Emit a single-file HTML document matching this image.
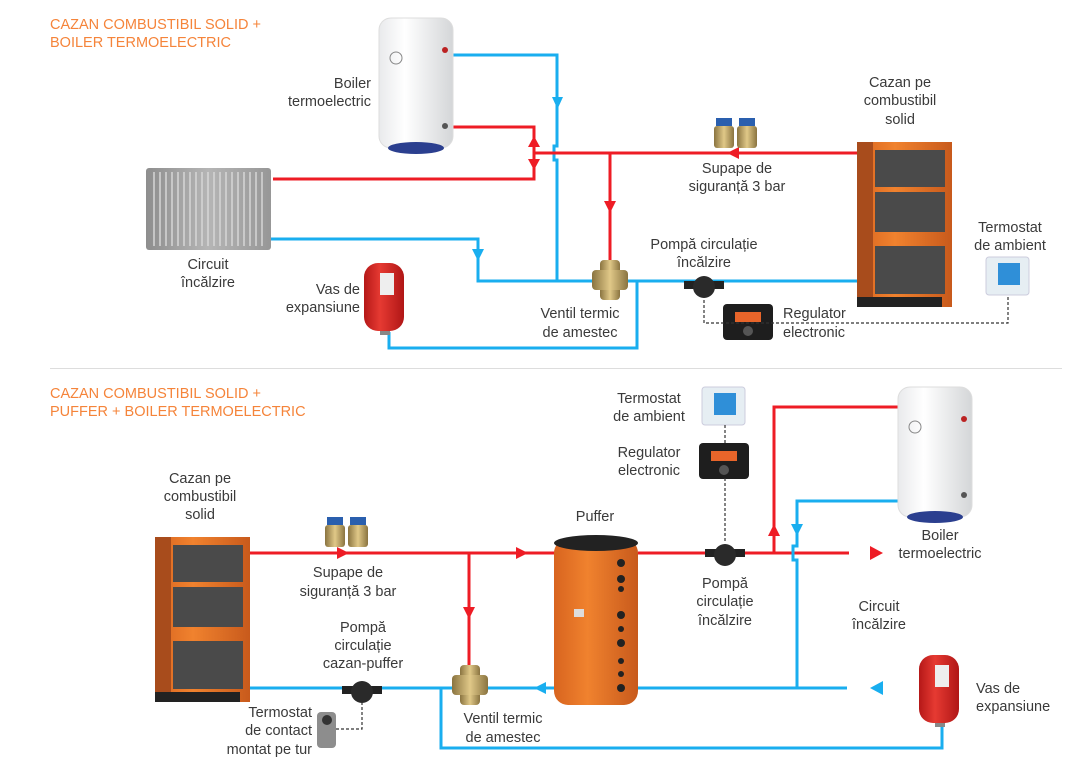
<!DOCTYPE html>
<html><head><meta charset="utf-8"><style>
html,body{margin:0;padding:0;background:#fff}
svg{display:block}
text{font-family:"Liberation Sans",sans-serif;font-size:14.5px;fill:#3a3a3a}
.t{fill:#f5843a;font-size:14.5px}
.b{stroke:#19aeef;stroke-width:3;fill:none}
.r{stroke:#ee1c25;stroke-width:3;fill:none}
.d{stroke:#333;stroke-width:1.2;fill:none;stroke-dasharray:3,2}
</style></head><body>
<svg width="1071" height="779" viewBox="0 0 1071 779" xmlns="http://www.w3.org/2000/svg">
<defs>
<linearGradient id="wh" x1="0" x2="1"><stop offset="0" stop-color="#e9eaec"/><stop offset="0.35" stop-color="#ffffff"/><stop offset="1" stop-color="#d4d6d8"/></linearGradient>
<linearGradient id="or" x1="0" x2="1"><stop offset="0" stop-color="#d8641f"/><stop offset="0.4" stop-color="#f0822e"/><stop offset="1" stop-color="#c85a1c"/></linearGradient>
<linearGradient id="rd" x1="0" x2="1"><stop offset="0" stop-color="#b51818"/><stop offset="0.4" stop-color="#e63a32"/><stop offset="1" stop-color="#b01616"/></linearGradient>
<linearGradient id="br" x1="0" x2="1"><stop offset="0" stop-color="#8a7440"/><stop offset="0.5" stop-color="#e0c888"/><stop offset="1" stop-color="#8a7440"/></linearGradient>
<linearGradient id="gr" x1="0" x2="1"><stop offset="0" stop-color="#8e8e8e"/><stop offset="0.5" stop-color="#b5b5b5"/><stop offset="1" stop-color="#979797"/></linearGradient>
<g id="boiler">
<rect x="0" y="0" width="74" height="130" rx="12" fill="url(#wh)" stroke="#ddd"/>
<ellipse cx="37" cy="130" rx="28" ry="6" fill="#2b3f8f"/>
<circle cx="17" cy="40" r="6" fill="none" stroke="#888"/>
<circle cx="66" cy="32" r="3" fill="#b22"/>
<circle cx="66" cy="108" r="3" fill="#555"/>
</g>
<g id="cazan">
<rect x="0" y="0" width="95" height="165" fill="url(#or)"/>
<rect x="0" y="0" width="16" height="158" fill="#a84c1c"/>
<rect x="18" y="8" width="70" height="37" fill="#4a4a4a"/>
<rect x="18" y="50" width="70" height="40" fill="#4a4a4a"/>
<rect x="18" y="104" width="70" height="48" fill="#4a4a4a"/>
<rect x="0" y="155" width="85" height="10" fill="#222"/>
</g>
<g id="valve">
<rect x="0" y="0" width="16" height="8" fill="#2a5fae"/>
<rect x="-2" y="8" width="20" height="22" rx="3" fill="url(#br)"/>
</g>
<g id="pump">
<rect x="0" y="6" width="40" height="8" fill="#222"/>
<circle cx="20" cy="12" r="11" fill="#2a2a2a"/>
</g>
<g id="mix">
<rect x="8" y="0" width="20" height="40" rx="4" fill="url(#br)"/>
<rect x="0" y="10" width="36" height="20" rx="4" fill="url(#br)"/>
</g>
<g id="reg">
<rect x="0" y="0" width="50" height="36" rx="4" fill="#1e1e1e"/>
<rect x="12" y="8" width="26" height="10" fill="#e8652a"/>
<circle cx="25" cy="27" r="5" fill="#555"/>
</g>
<g id="term">
<rect x="0" y="0" width="43" height="38" rx="3" fill="#e6eef3" stroke="#ccd"/>
<rect x="12" y="6" width="22" height="22" fill="#2f8fd8"/>
</g>
<g id="vas">
<rect x="0" y="0" width="40" height="68" rx="14" fill="url(#rd)"/>
<rect x="16" y="10" width="14" height="22" fill="#eee"/>
<rect x="16" y="68" width="10" height="4" fill="#888"/>
</g>
</defs>

<!-- TOP -->
<text class="t" x="50" y="29">CAZAN COMBUSTIBIL SOLID  +</text>
<text class="t" x="50" y="47">BOILER TERMOELECTRIC</text>

<path class="b" d="M453 55 H557 V146 H554 V160 H557 V281"/>
<path class="b" d="M269 239 H478 V281 H857"/>
<path class="b" d="M389 332 V348 H637 V281"/>
<path class="r" d="M450 127 H534 V179 H273"/>
<path class="r" d="M534 153 H857"/>
<path class="r" d="M610 153 V262"/>
<polygon points="552,97 563,97 557.5,109" fill="#19aeef"/>
<polygon points="472,249 484,249 478,261" fill="#19aeef"/>
<polygon points="528,147 540,147 534,136" fill="#ee1c25"/>
<polygon points="528,159 540,159 534,170" fill="#ee1c25"/>
<polygon points="604,201 616,201 610,213" fill="#ee1c25"/>
<polygon points="739,147 739,159 727,153" fill="#ee1c25"/>

<use href="#boiler" x="379" y="18"/>
<g transform="translate(146,168)">
<rect x="0" y="0" width="125" height="82" rx="3" fill="url(#gr)"/>
<path d="M8 4 V78 M14 4 V78 M20 4 V78 M26 4 V78 M32 4 V78 M38 4 V78 M44 4 V78 M50 4 V78 M56 4 V78 M62 4 V78 M68 4 V78 M74 4 V78 M80 4 V78 M86 4 V78 M92 4 V78 M98 4 V78 M104 4 V78 M110 4 V78 M116 4 V78" stroke="#d6d6d6" stroke-width="1.5"/>
</g>
<use href="#vas" x="364" y="263"/>
<use href="#valve" x="716" y="118"/>
<use href="#valve" x="739" y="118"/>
<use href="#cazan" x="857" y="142"/>
<use href="#mix" x="592" y="260"/>
<use href="#pump" x="684" y="275"/>
<use href="#reg" x="723" y="304"/>
<use href="#term" x="986" y="257"/>
<path class="d" d="M704 300 V323 H1008 V296"/>

<g text-anchor="end">
<text x="371" y="88">Boiler</text><text x="371" y="106">termoelectric</text>
<text x="360" y="294">Vas de</text><text x="360" y="312">expansiune</text>
</g>
<g text-anchor="middle">
<text x="208" y="269">Circuit</text><text x="208" y="287">încălzire</text>
<text x="737" y="173">Supape de</text><text x="737" y="191">siguranță 3 bar</text>
<text x="704" y="249">Pompă circulație</text><text x="704" y="267">încălzire</text>
<text x="900" y="87">Cazan pe</text><text x="900" y="105">combustibil</text><text x="900" y="124">solid</text>
<text x="1010" y="232">Termostat</text><text x="1010" y="250">de ambient</text>
<text x="580" y="318">Ventil termic</text><text x="580" y="337">de amestec</text>
</g>
<text x="783" y="318">Regulator</text><text x="783" y="337">electronic</text>

<line x1="50" y1="368.5" x2="1062" y2="368.5" stroke="#ddd" stroke-width="1"/>

<!-- BOTTOM -->
<text class="t" x="50" y="398">CAZAN COMBUSTIBIL SOLID +</text>
<text class="t" x="50" y="416">PUFFER + BOILER TERMOELECTRIC</text>

<path class="r" d="M250 553 H556"/>
<path class="r" d="M469 553 V666"/>
<path class="r" d="M638 553 H849"/>
<path class="r" d="M774 553 V407 H900"/>
<path class="b" d="M250 688 H556"/>
<path class="b" d="M638 688 H847"/>
<path class="b" d="M900 501 H797 V546 H793 V560 H797 V688"/>
<path class="b" d="M942 723 V748 H441 V688"/>
<polygon points="337,547 337,559 349,553" fill="#ee1c25"/>
<polygon points="516,547 516,559 528,553" fill="#ee1c25"/>
<polygon points="463,607 475,607 469,619" fill="#ee1c25"/>
<polygon points="768,536 780,536 774,524" fill="#ee1c25"/>
<polygon points="870,546 870,560 883,553" fill="#ee1c25"/>
<polygon points="791,524 803,524 797,536" fill="#19aeef"/>
<polygon points="546,682 546,694 534,688" fill="#19aeef"/>
<polygon points="883,681 883,695 870,688" fill="#19aeef"/>

<use href="#cazan" x="155" y="537"/>
<use href="#valve" x="327" y="517"/>
<use href="#valve" x="350" y="517"/>
<use href="#mix" x="452" y="665"/>
<use href="#pump" x="342" y="680"/>
<g transform="translate(554,533)">
<rect x="0" y="6" width="84" height="166" rx="14" fill="url(#or)"/>
<ellipse cx="42" cy="10" rx="42" ry="8" fill="#222"/>
<rect x="20" y="76" width="10" height="8" fill="#ddd"/>
<g fill="#222"><circle cx="67" cy="30" r="4"/><circle cx="67" cy="46" r="4"/><circle cx="67" cy="56" r="3"/><circle cx="67" cy="82" r="4"/><circle cx="67" cy="96" r="3"/><circle cx="67" cy="110" r="4"/><circle cx="67" cy="128" r="3"/><circle cx="67" cy="141" r="3"/><circle cx="67" cy="155" r="4"/></g>
</g>
<use href="#pump" x="705" y="543"/>
<use href="#term" x="702" y="387"/>
<use href="#reg" x="699" y="443"/>
<path class="d" d="M725 425 V443 M725 478 V543"/>
<use href="#boiler" x="898" y="387"/>
<use href="#vas" x="919" y="655"/>
<g transform="translate(317,712)"><rect x="0" y="0" width="19" height="36" rx="4" fill="#8d8d8d"/><circle cx="10" cy="8" r="5" fill="#333"/></g>
<path class="d" d="M336 729 H362 V703"/>

<g text-anchor="middle">
<text x="200" y="483">Cazan pe</text><text x="200" y="501">combustibil</text><text x="200" y="519">solid</text>
<text x="348" y="577">Supape de</text><text x="348" y="596">siguranță 3 bar</text>
<text x="363" y="632">Pompă</text><text x="363" y="650">circulație</text><text x="363" y="668">cazan-puffer</text>
<text x="503" y="723">Ventil termic</text><text x="503" y="742">de amestec</text>
<text x="649" y="403">Termostat</text><text x="649" y="421">de ambient</text>
<text x="649" y="457">Regulator</text><text x="649" y="475">electronic</text>
<text x="595" y="521">Puffer</text>
<text x="725" y="588">Pompă</text><text x="725" y="606">circulație</text><text x="725" y="625">încălzire</text>
<text x="940" y="540">Boiler</text><text x="940" y="558">termoelectric</text>
<text x="879" y="611">Circuit</text><text x="879" y="629">încălzire</text>
</g>
<g text-anchor="end">
<text x="312" y="717">Termostat</text><text x="312" y="735">de contact</text><text x="312" y="754">montat pe tur</text>
</g>
<text x="976" y="693">Vas de</text><text x="976" y="711">expansiune</text>
</svg>
</body></html>
